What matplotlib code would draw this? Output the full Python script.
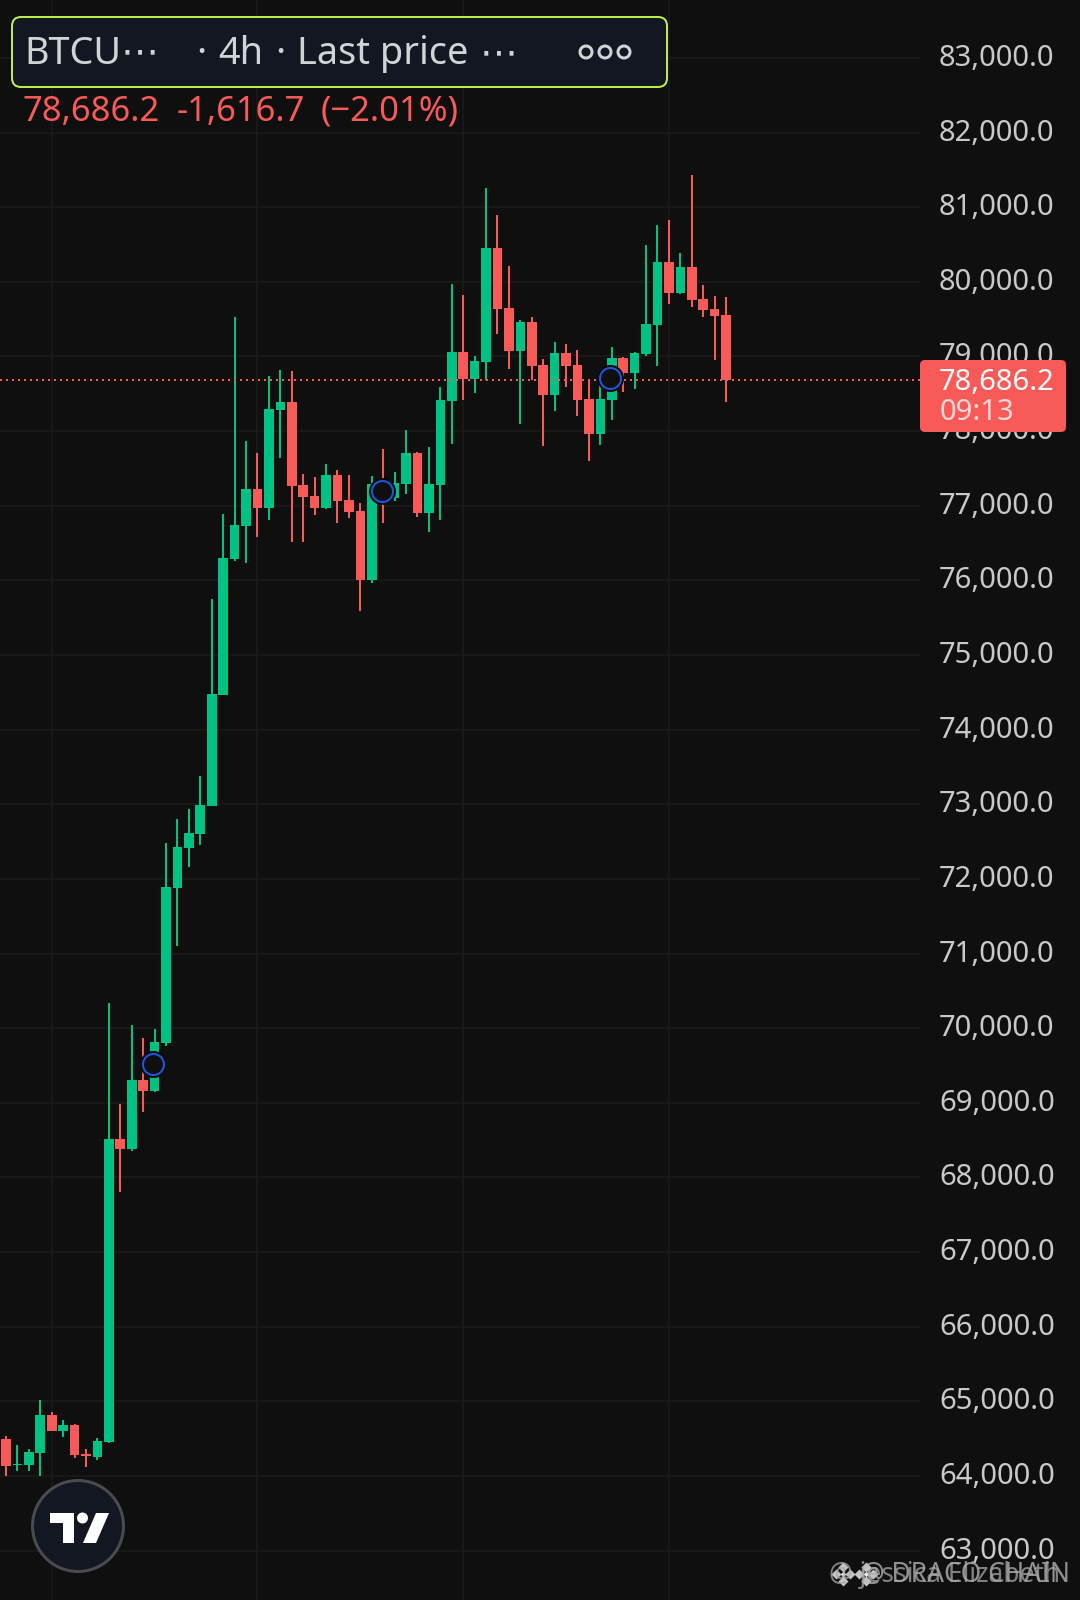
import matplotlib
matplotlib.use("Agg")
import matplotlib.pyplot as plt
import matplotlib.transforms as mtrans
import numpy as np
from matplotlib.patches import FancyBboxPatch, Circle, Polygon

plt.rcParams['font.family'] = ['Noto Sans', 'DejaVu Sans']

# candle values, oldest first
opens = [64494, 64146, 64146, 64307, 64816, 64602, 64682, 64293, 64253, 64454, 68514, 68387, 69305, 69158, 69801, 71878,
         72414, 72601, 72977, 74464, 76286, 76729, 77224, 76970, 78283, 78390, 77278, 77131, 76970, 77412, 77077, 76930,
         76005, 77291, 77104, 77291, 77707, 76903, 77278, 78404, 79060, 78698, 78926, 80454, 79650, 79074, 79462, 78886,
         78484, 79047, 78886, 78430, 77961, 78417, 78980, 78779, 79033, 79422, 80266, 79851, 80199, 79770, 79636, 79556]
closes = [64133, 64159, 64320, 64816, 64602, 64682, 64280, 64260, 64468, 68514, 68387, 69305, 69158, 69814, 71891, 72427,
          72615, 72990, 74477, 76300, 76742, 77224, 76970, 78296, 78390, 77265, 77117, 76970, 77412, 77064, 76916, 76005,
          77291, 77104, 77305, 77707, 76903, 77291, 78417, 79060, 78698, 78940, 80454, 79636, 79074, 79462, 78873, 78484,
          79047, 78873, 78417, 77961, 78430, 78980, 78779, 79047, 79435, 80266, 79851, 80199, 79757, 79623, 79543, 78686.2]
highs = [64535, 64414, 64367, 65017, 64856, 64749, 64695, 64367, 64508, 70337, 68983, 70042, 69868, 69988, 72481, 72802,
         72936, 73379, 75750, 76889, 79529, 77868, 77707, 78739, 78819, 78806, 77425, 77385, 77559, 77479, 77412, 77037,
         77399, 77760, 77452, 78015, 77720, 77787, 78591, 79971, 79824, 79007, 81258, 80896, 80213, 79489, 79529, 78966,
         79194, 79167, 79087, 78698, 78618, 79127, 78993, 79060, 80494, 80762, 80829, 80387, 81432, 79958, 79811, 79797]
lows = [63999, 64066, 64066, 63999, 64602, 64521, 64240, 64119, 64213, 64441, 67804, 68354, 68876, 69144, 69761, 71101,
        72159, 72454, 72977, 74464, 76260, 76233, 76581, 76809, 77640, 76514, 76514, 76876, 76956, 76769, 76836, 75590,
        75965, 76769, 77064, 77157, 76849, 76648, 76809, 77827, 78417, 78511, 78685, 79301, 78832, 78095, 78685, 77801,
        78270, 78591, 78203, 77600, 77814, 78149, 78524, 78564, 79007, 78873, 79703, 79837, 79663, 79529, 78953, 78390]

price_ticks = list(range(63000, 84000, 1000))
time_grid = [4, 22, 40, 58]
last_price = 78686.2
marker_idx = [12.9, 32.9, 52.85]
marker_price = [69520, 77198, 78712]

BG = "#0f0f0f"
GRID = "#1b1b1b"
GREEN = "#00c285"
RED = "#f85a58"
LABEL = "#c9c9c9"
PX = 72 / 100  # points per pixel at dpi 100

fig = plt.figure(figsize=(10.8, 16), dpi=100, facecolor=BG)

# price chart, 920px wide, price scale labels sit to the right of it
ax = fig.add_axes([0, 0, 920 / 1080, 1], facecolor=BG)
idx = np.arange(len(opens))
o, c, h, l = map(np.array, (opens, closes, highs, lows))
colors = np.where(c >= o, GREEN, RED)

ax.vlines(idx, l, h, colors=colors, linewidth=2 * PX, zorder=3, capstyle="butt")
ax.bar(idx, np.abs(c - o), bottom=np.minimum(o, c), width=0.84, color=colors, zorder=4, antialiased=False)

ax.axhline(last_price, color=RED, linewidth=2 * PX, linestyle=(0, (1, 2)), zorder=5)

ax.plot(marker_idx, marker_price, linestyle="none", marker="o", ms=25 * PX, mfc=BG, mec="#0a0a0a",
        mew=2 * PX, zorder=6)
ax.plot(marker_idx, marker_price, linestyle="none", marker="o", ms=21 * PX, mfc="none", mec="#1f55e0",
        mew=2 * PX, zorder=7)

ax.set_xlim(-0.525, 79.97)
ax.set_ylim(62337, 83777)
ax.set_xticks(time_grid)
ax.set_xticklabels([])
ax.set_yticks(price_ticks)
ax.set_yticklabels([f"{p:,.1f}" for p in price_ticks], fontsize=21, color=LABEL)
ax.yaxis.tick_right()
ax.tick_params(axis="both", length=0)
ax.tick_params(axis="y", pad=19 * PX)
# labels sit a little above their grid line
up = mtrans.ScaledTranslation(0, 3 / 100, fig.dpi_scale_trans)
for t in ax.get_yticklabels():
    t.set_transform(t.get_transform() + up)
ax.grid(True, color=GRID, linewidth=1.5 * PX, zorder=0)
ax.set_axisbelow(True)
for s in ax.spines.values():
    s.set_visible(False)

# overlay in pixel coords for the app furniture
ui = fig.add_axes([0, 0, 1, 1], facecolor="none", zorder=10)
ui.set_xlim(0, 1080)
ui.set_ylim(1600, 0)
ui.axis("off")

# header box
ui.add_patch(FancyBboxPatch((12, 17), 655, 70, boxstyle="round,pad=0,rounding_size=9",
                            fc="#131722", ec="#bcec4c", lw=2 * PX))
head_kw = dict(fontsize=27.3, color="#d1d4d6", va="center")
ui.text(24, 54, "BTCU⋯", **head_kw)
ui.text(196, 54, "·", **head_kw)
ui.text(218, 54, "4h", **head_kw)
ui.text(275, 54, "·", **head_kw)
ui.text(297, 54, "Last price", **head_kw)
ui.text(480, 54, "⋯", **head_kw)
for cx in (586, 605, 624):
    ui.add_patch(Circle((cx, 52), 6, fc="none", ec="#d1d4d6", lw=3 * PX))

# change line
chg_kw = dict(fontsize=24.9, color=RED, va="center")
ui.text(22, 112, "78,686.2", **chg_kw)
ui.text(177, 112, "-1,616.7", **chg_kw)
ui.text(321, 112, "(−2.01%)", **chg_kw)

# last price tag
ui.add_patch(FancyBboxPatch((920, 360), 146, 72, boxstyle="round,pad=0,rounding_size=5", fc=RED, ec="none"))
ui.text(1055, 382, f"{last_price:,.1f}", fontsize=21, color="#ffffff", ha="right", va="center")
ui.text(940, 413, "09:13", fontsize=21, color="#ffd9d8", ha="left", va="center")

# TradingView button
ui.add_patch(Circle((78, 1526), 45.5, fc="#131722", ec="#4a4a4f", lw=3 * PX))
ui.add_patch(Polygon([(50, 1513), (74, 1513), (74, 1543), (63, 1543), (63, 1523), (50, 1523)], fc="white", ec="none"))
ui.add_patch(Circle((82.5, 1518), 5.5, fc="white", ec="none"))
ui.add_patch(Polygon([(96, 1513), (109, 1513), (96, 1543), (83, 1543)], fc="white", ec="none"))

# watermarks, two of them stacked on top of each other
for cx in (843, 866):
    for dx, dy in ((-7, 0), (7, 0), (0, -7), (0, 7)):
        ui.plot([cx + dx], [1574 + dy], marker="D", ms=6.5 * PX, mfc="#c4c4c4", mec="none")
    ui.plot([cx], [1574], marker="D", ms=4 * PX, mfc="#e6e6e6", mec="none")
wm_kw = dict(fontsize=19, va="center", ha="right", alpha=0.75)
ui.text(1070, 1575, "@ DRACO CHAIN", color="#bdbdbd", **wm_kw)
ui.text(1060, 1575, "@ jessica Elizabeth", color="#a8a8a8", **wm_kw)

fig.savefig("out.png", dpi=100, facecolor=BG)
